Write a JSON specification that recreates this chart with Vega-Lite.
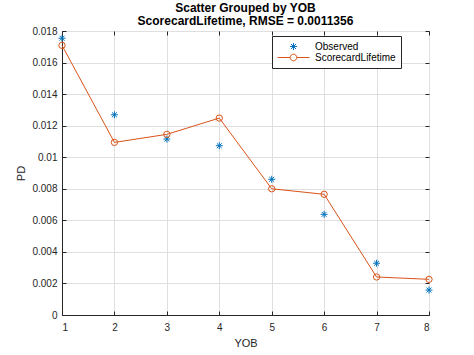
{
  "$schema": "https://vega.github.io/schema/vega-lite/v6.json",
  "width": 367,
  "height": 284,
  "autosize": {"type": "none"},
  "padding": {"left": 62, "top": 31, "right": 45, "bottom": 40},
  "background": "white",
  "config": {
    "font": "Liberation Sans",
    "view": {"stroke": "#262626", "strokeWidth": 1},
    "axis": {
      "domainColor": "#262626",
      "tickColor": "#262626",
      "labelColor": "#262626",
      "titleColor": "#262626",
      "labelFont": "Liberation Sans",
      "titleFont": "Liberation Sans",
      "labelFontSize": 10,
      "titleFontSize": 11,
      "titleFontWeight": "normal",
      "gridColor": "#dfdfdf",
      "gridOpacity": 1,
      "tickSize": -4
    }
  },
  "title": {
    "text": ["Scatter Grouped by YOB", "ScorecardLifetime, RMSE = 0.0011356"],
    "fontSize": 12,
    "fontWeight": "bold",
    "color": "#000000",
    "font": "Liberation Sans",
    "anchor": "middle",
    "lineHeight": 13,
    "offset": -2
  },
  "data": {
    "values": [
      {"YOB": 1, "PD": 0.01754, "series": "Observed"},
      {"YOB": 2, "PD": 0.01269, "series": "Observed"},
      {"YOB": 3, "PD": 0.01115, "series": "Observed"},
      {"YOB": 4, "PD": 0.01073, "series": "Observed"},
      {"YOB": 5, "PD": 0.00860, "series": "Observed"},
      {"YOB": 6, "PD": 0.00638, "series": "Observed"},
      {"YOB": 7, "PD": 0.00328, "series": "Observed"},
      {"YOB": 8, "PD": 0.00158, "series": "Observed"},
      {"YOB": 1, "PD": 0.01709, "series": "ScorecardLifetime"},
      {"YOB": 2, "PD": 0.01094, "series": "ScorecardLifetime"},
      {"YOB": 3, "PD": 0.01145, "series": "ScorecardLifetime"},
      {"YOB": 4, "PD": 0.01248, "series": "ScorecardLifetime"},
      {"YOB": 5, "PD": 0.00800, "series": "ScorecardLifetime"},
      {"YOB": 6, "PD": 0.00765, "series": "ScorecardLifetime"},
      {"YOB": 7, "PD": 0.00241, "series": "ScorecardLifetime"},
      {"YOB": 8, "PD": 0.00226, "series": "ScorecardLifetime"}
    ]
  },
  "resolve": {"axis": {"x": "independent", "y": "independent"}},
  "layer": [
    {
      "transform": [{"filter": "datum.series === 'ScorecardLifetime'"}],
      "mark": {"type": "line", "color": "#D95319", "strokeWidth": 1},
      "encoding": {
        "x": {
          "field": "YOB", "type": "quantitative",
          "scale": {"domain": [1, 8], "nice": false, "zero": false},
          "axis": {"orient": "bottom", "values": [1, 2, 3, 4, 5, 6, 7, 8], "format": "d", "grid": true, "title": "YOB", "labelPadding": 11, "titlePadding": 5}
        },
        "y": {
          "field": "PD", "type": "quantitative",
          "scale": {"domain": [0, 0.018], "nice": false, "zero": true},
          "axis": {"orient": "left", "values": [0, 0.002, 0.004, 0.006, 0.008, 0.01, 0.012, 0.014, 0.016, 0.018], "format": "~g", "grid": true, "title": "PD", "labelPadding": 9, "titlePadding": 5}
        }
      }
    },
    {
      "transform": [{"filter": "datum.series === 'Observed'"}],
      "mark": {"type": "point", "shape": "M-1,0L1,0M0,-1L0,1M-0.7,-0.7L0.7,0.7M-0.7,0.7L0.7,-0.7", "color": "#0072BD", "filled": false, "size": 49, "strokeWidth": 1, "opacity": 1},
      "encoding": {
        "x": {
          "field": "YOB", "type": "quantitative",
          "axis": {"orient": "top", "values": [1, 2, 3, 4, 5, 6, 7, 8], "labels": false, "grid": false, "title": null, "domain": false}
        },
        "y": {
          "field": "PD", "type": "quantitative",
          "axis": {"orient": "right", "values": [0, 0.002, 0.004, 0.006, 0.008, 0.01, 0.012, 0.014, 0.016, 0.018], "labels": false, "grid": false, "title": null, "domain": false}
        }
      }
    },
    {
      "transform": [{"filter": "datum.series === 'ScorecardLifetime'"}],
      "mark": {"type": "point", "shape": "circle", "color": "#D95319", "filled": false, "size": 40, "strokeWidth": 1, "opacity": 1},
      "encoding": {
        "x": {"field": "YOB", "type": "quantitative", "axis": null},
        "y": {"field": "PD", "type": "quantitative", "axis": null}
      }
    },
    {
      "mark": {"type": "point", "filled": false, "opacity": 0, "strokeWidth": 1},
      "encoding": {
        "x": {"field": "YOB", "type": "quantitative", "axis": null},
        "y": {"field": "PD", "type": "quantitative", "axis": null},
        "color": {
          "field": "series", "type": "nominal",
          "scale": {"domain": ["Observed", "ScorecardLifetime"], "range": ["#0072BD", "#D95319"]},
          "legend": {"title": null, "orient": "none", "legendX": 210, "legendY": 5, "symbolSize": 100, "symbolOpacity": 1, "symbolStrokeWidth": 1, "symbolOffset": 11, "labelOffset": 16, "labelFontSize": 10, "labelColor": "#000000", "labelFont": "Liberation Sans", "padding": 5, "rowPadding": 0, "strokeColor": "#262626", "fillColor": "white", "cornerRadius": 0}
        },
        "shape": {
          "field": "series", "type": "nominal",
          "scale": {"domain": ["Observed", "ScorecardLifetime"], "range": ["M-0.7,0L0.7,0M0,-0.7L0,0.7M-0.5,-0.5L0.5,0.5M-0.5,0.5L0.5,-0.5", "M-3.2,0L-0.66,0M0.66,0L3.2,0M0.66,0A0.66,0.66 0 1,1 -0.66,0A0.66,0.66 0 1,1 0.66,0"]},
          "legend": {"title": null, "orient": "none", "legendX": 210, "legendY": 5, "symbolSize": 100, "symbolOpacity": 1, "symbolStrokeWidth": 1, "symbolOffset": 11, "labelOffset": 16, "labelFontSize": 10, "labelColor": "#000000", "labelFont": "Liberation Sans", "padding": 5, "rowPadding": 0, "strokeColor": "#262626", "fillColor": "white", "cornerRadius": 0}
        }
      }
    }
  ]
}
